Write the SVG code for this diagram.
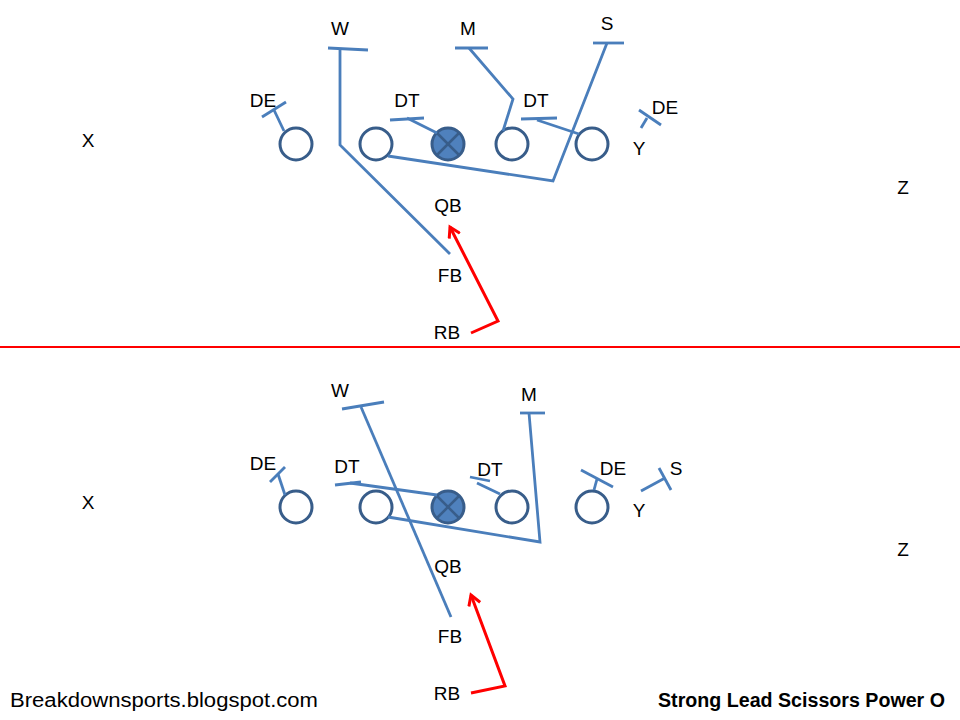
<svg xmlns="http://www.w3.org/2000/svg" width="960" height="720" viewBox="0 0 960 720">
<defs>
<style>
text{font-family:"Liberation Sans","Open Sans",Arial,sans-serif;font-size:19px;fill:#000;text-anchor:middle}
.blk{stroke:#4A7EBB;stroke-width:2.8;fill:none;stroke-linecap:butt}
.ol{fill:#fff;stroke:#385D8A;stroke-width:3}
.ctr{fill:#4F81BD;stroke:#385D8A;stroke-width:3}
.x{stroke:#385D8A;stroke-width:2.5}
.run{stroke:#FF0000;stroke-width:3;fill:none}
.foot{font-size:20px;text-anchor:start}
</style>
<marker id="arr" markerWidth="14" markerHeight="14" refX="11" refY="7" orient="auto" markerUnits="userSpaceOnUse">
<polyline points="1,1 11,7 1,13" fill="none" stroke="#FF0000" stroke-width="3"/>
</marker>
</defs>
<rect width="960" height="720" fill="#fff"/>
<line x1="0" y1="347" x2="960" y2="347" stroke="#FF0000" stroke-width="2"/>

<!-- TOP PLAY -->
<g id="top-offense">
<g id="t-lt"><circle class="ol" cx="296" cy="144" r="16"/></g>
<g id="t-lg"><circle class="ol" cx="376" cy="144" r="16"/></g>
<g id="t-c"><circle class="ctr" cx="448" cy="144" r="16"/><line class="x" x1="437" y1="133" x2="459" y2="155"/><line class="x" x1="459" y1="133" x2="437" y2="155"/></g>
<g id="t-rg"><circle class="ol" cx="512" cy="144" r="16"/></g>
<g id="t-rt"><circle class="ol" cx="592" cy="144" r="16"/></g>
<g id="t-x"><text x="88" y="147">X</text></g>
<g id="t-z"><text x="903" y="194">Z</text></g>
<g id="t-y"><text x="639" y="155">Y</text></g>
<g id="t-qb"><text x="448" y="212">QB</text></g>
<g id="t-fb"><text x="450" y="282">FB</text></g>
<g id="t-rb"><text x="447" y="339">RB</text></g>
</g>
<g id="top-defense">
<g id="t-w"><text x="340" y="35">W</text></g>
<g id="t-m"><text x="468" y="35">M</text></g>
<g id="t-s"><text x="607" y="30">S</text></g>
<g id="t-de1"><text x="263" y="107">DE</text></g>
<g id="t-dt1"><text x="407" y="107">DT</text></g>
<g id="t-dt2"><text x="536" y="107">DT</text></g>
<g id="t-de2"><text x="665" y="114">DE</text></g>
</g>
<g id="top-connectors">
<line class="blk" x1="328" y1="48" x2="368" y2="50"/>
<polyline class="blk" points="340,48 340,145 450,254"/>
<line class="blk" x1="262" y1="117" x2="286" y2="102"/>
<line class="blk" x1="274" y1="110" x2="284" y2="131"/>
<line class="blk" x1="390" y1="120" x2="424" y2="118"/>
<line class="blk" x1="407" y1="118" x2="437" y2="133"/>
<polyline class="blk" points="388,156 553,181 607,43"/>
<line class="blk" x1="593" y1="43" x2="624" y2="43"/>
<line class="blk" x1="455" y1="48" x2="488" y2="48"/>
<polyline class="blk" points="469,48 513,99 503,131"/>
<line class="blk" x1="521" y1="119" x2="557" y2="118"/>
<line class="blk" x1="537" y1="120" x2="579" y2="134"/>
<line class="blk" x1="639" y1="110" x2="661" y2="125"/>
<line class="blk" x1="647" y1="118" x2="641" y2="128"/>
<polyline class="run" points="471,333 498,321 450,227" marker-end="url(#arr)"/>
</g>

<!-- BOTTOM PLAY -->
<g id="bottom-offense">
<g id="b-lt"><circle class="ol" cx="296" cy="507" r="16"/></g>
<g id="b-lg"><circle class="ol" cx="376" cy="507" r="16"/></g>
<g id="b-c"><circle class="ctr" cx="448" cy="507" r="16"/><line class="x" x1="437" y1="496" x2="459" y2="518"/><line class="x" x1="459" y1="496" x2="437" y2="518"/></g>
<g id="b-rg"><circle class="ol" cx="512" cy="507" r="16"/></g>
<g id="b-rt"><circle class="ol" cx="592" cy="507" r="16"/></g>
<g id="b-x"><text x="88" y="509">X</text></g>
<g id="b-z"><text x="903" y="556">Z</text></g>
<g id="b-y"><text x="639" y="517">Y</text></g>
<g id="b-qb"><text x="448" y="573">QB</text></g>
<g id="b-fb"><text x="450" y="643">FB</text></g>
<g id="b-rb"><text x="447" y="700">RB</text></g>
</g>
<g id="bottom-defense">
<g id="b-w"><text x="340" y="397">W</text></g>
<g id="b-m"><text x="529" y="401">M</text></g>
<g id="b-de1"><text x="263" y="470">DE</text></g>
<g id="b-dt1"><text x="347" y="473">DT</text></g>
<g id="b-dt2"><text x="490" y="476">DT</text></g>
<g id="b-de2"><text x="613" y="475">DE</text></g>
<g id="b-s"><text x="676" y="475">S</text></g>
</g>
<g id="bottom-connectors">
<line class="blk" x1="342" y1="409" x2="384" y2="402"/>
<line class="blk" x1="361" y1="407" x2="451" y2="617"/>
<line class="blk" x1="270" y1="482" x2="285" y2="467"/>
<line class="blk" x1="278" y1="474" x2="285" y2="495"/>
<line class="blk" x1="335" y1="485" x2="361" y2="482"/>
<line class="blk" x1="350" y1="483" x2="437" y2="495"/>
<polyline class="blk" points="388,517 540,542 529,413"/>
<line class="blk" x1="520" y1="413" x2="545" y2="413"/>
<line class="blk" x1="470" y1="477" x2="490" y2="481"/>
<line class="blk" x1="477" y1="483" x2="500" y2="494"/>
<line class="blk" x1="581" y1="470" x2="613" y2="487"/>
<line class="blk" x1="597" y1="479" x2="594" y2="490"/>
<line class="blk" x1="659" y1="468" x2="671" y2="490"/>
<line class="blk" x1="641" y1="491" x2="665" y2="478"/>
<polyline class="run" points="471,693 505,686 471,595" marker-end="url(#arr)"/>
</g>

<g id="footer">
<text class="foot" x="10" y="707" textLength="308" lengthAdjust="spacingAndGlyphs">Breakdownsports.blogspot.com</text>
<text class="foot" x="658" y="707" font-weight="bold" textLength="287" lengthAdjust="spacingAndGlyphs">Strong Lead Scissors Power O</text>
</g>
</svg>
